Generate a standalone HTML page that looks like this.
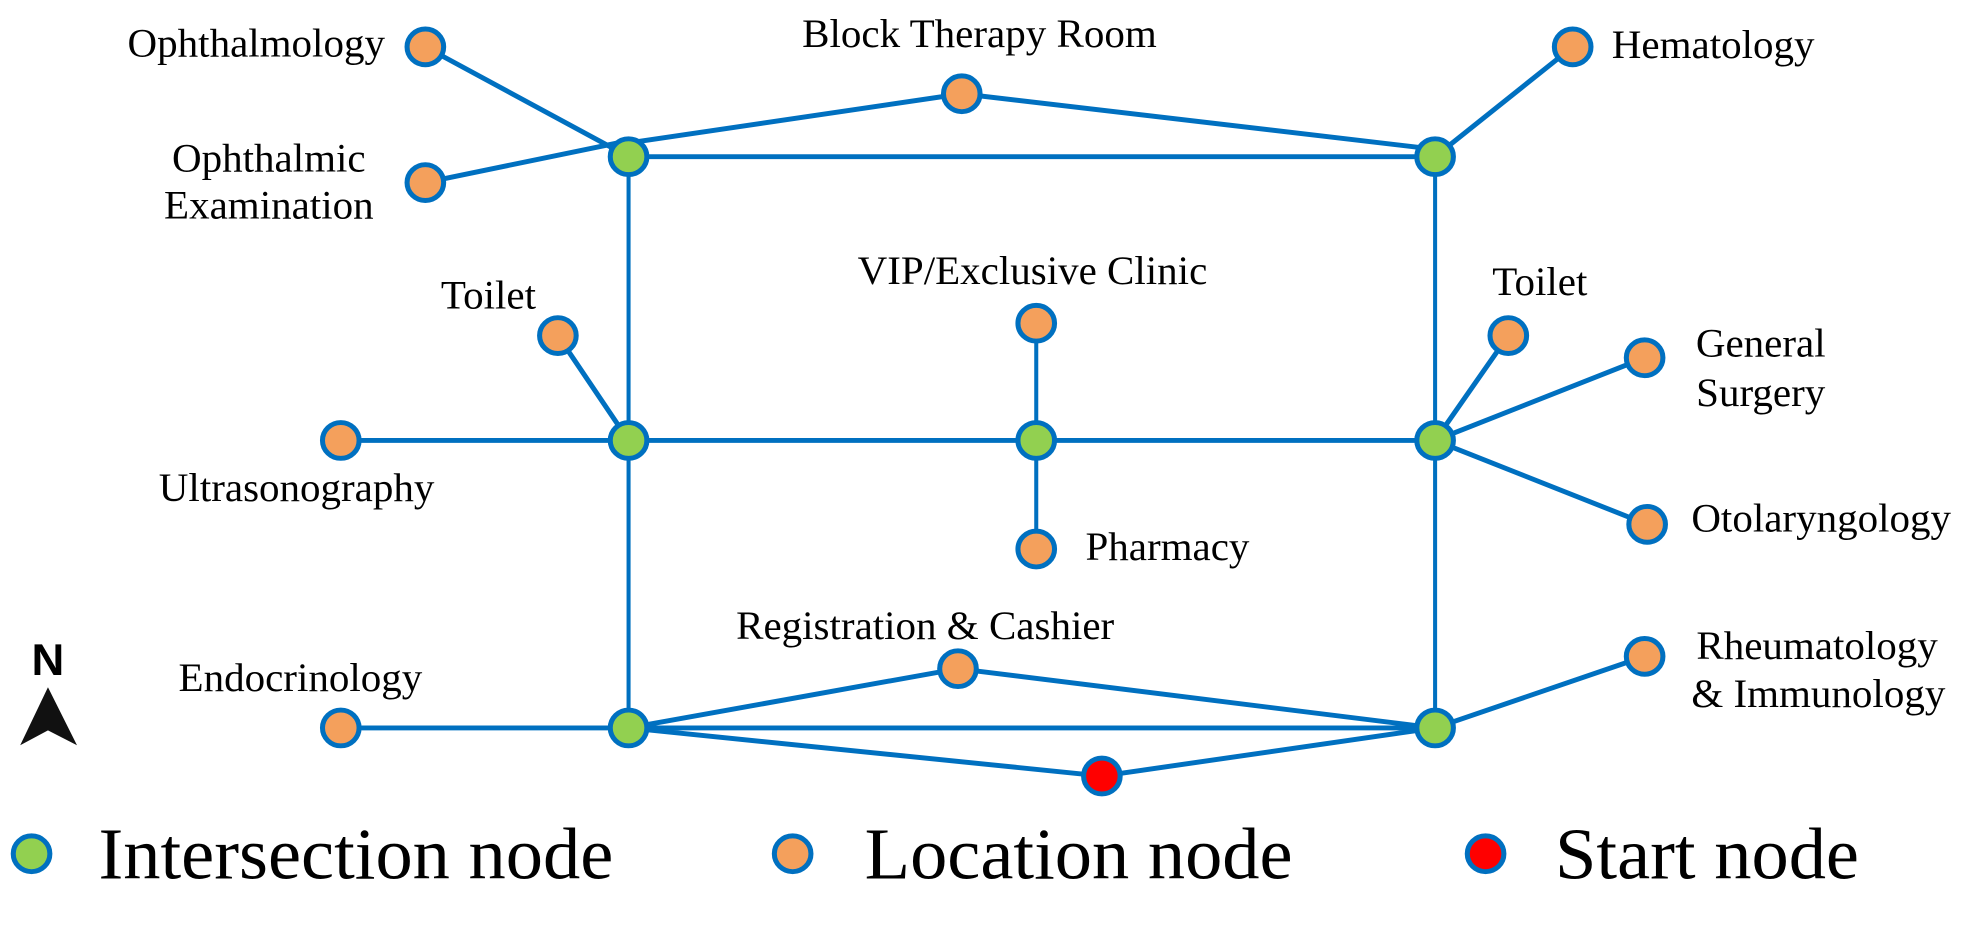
<!DOCTYPE html>
<html><head><meta charset="utf-8"><style>
html,body{margin:0;padding:0;background:#fff;}
svg{display:block;}
text{font-family:"Liberation Serif",serif;fill:#000;}
</style></head><body>
<svg width="1969" height="950" viewBox="0 0 1560 770" preserveAspectRatio="none">
<g stroke="#0070C0" stroke-width="4" fill="none" stroke-linecap="round">
<line x1="337" y1="38" x2="498" y2="127"/>
<line x1="337" y1="148" x2="498" y2="114"/>
<polyline points="484,118 762,76 1137,121"/>
<line x1="498" y1="127" x2="1137" y2="127"/>
<line x1="1137" y1="127" x2="1246" y2="38"/>
<line x1="498" y1="127" x2="498" y2="590" stroke-width="3.2"/>
<line x1="1137" y1="127" x2="1137" y2="590" stroke-width="3.2"/>
<line x1="442" y1="272" x2="498" y2="357"/>
<line x1="270" y1="357" x2="1137" y2="357"/>
<line x1="821" y1="262" x2="821" y2="445" stroke-width="3.2"/>
<line x1="1195" y1="272" x2="1137" y2="357"/>
<line x1="1303" y1="290" x2="1137" y2="357"/>
<line x1="1305" y1="425" x2="1137" y2="357"/>
<line x1="270" y1="590" x2="1137" y2="590"/>
<polyline points="498,590 759,542 1137,590"/>
<polyline points="498,590 873,629 1137,590"/>
<line x1="1137" y1="590" x2="1303" y2="532"/>
</g>
<g stroke="#0070C0" stroke-width="4">
<g fill="#F4A05C">
<circle cx="337" cy="38" r="14.5"/><circle cx="337" cy="148" r="14.5"/>
<circle cx="762" cy="76" r="14.5"/><circle cx="1246" cy="38" r="14.5"/>
<circle cx="442" cy="272" r="14.5"/><circle cx="270" cy="357" r="14.5"/>
<circle cx="821" cy="262" r="14.5"/><circle cx="821" cy="445" r="14.5"/>
<circle cx="1195" cy="272" r="14.5"/><circle cx="1303" cy="290" r="14.5"/>
<circle cx="1305" cy="425" r="14.5"/><circle cx="270" cy="590" r="14.5"/>
<circle cx="759" cy="542" r="14.5"/><circle cx="1303" cy="532" r="14.5"/>
<circle cx="628" cy="692" r="14.5"/>
</g>
<g fill="#92D050">
<circle cx="498" cy="127" r="14.5"/><circle cx="1137" cy="127" r="14.5"/>
<circle cx="498" cy="357" r="14.5"/><circle cx="821" cy="357" r="14.5"/>
<circle cx="1137" cy="357" r="14.5"/><circle cx="498" cy="590" r="14.5"/>
<circle cx="1137" cy="590" r="14.5"/><circle cx="25" cy="692" r="14.5"/>
</g>
<g fill="#FF0000">
<circle cx="873" cy="629" r="14.5"/><circle cx="1177" cy="692" r="14.5"/>
</g>
</g>
<g font-size="32.5">
<text x="305" y="46" text-anchor="end">Ophthalmology</text>
<text x="776" y="38" text-anchor="middle">Block Therapy Room</text>
<text x="1277" y="47">Hematology</text>
<text x="213" y="139" text-anchor="middle">Ophthalmic</text>
<text x="213" y="177" text-anchor="middle">Examination</text>
<text x="387" y="250" text-anchor="middle">Toilet</text>
<text x="818" y="230" text-anchor="middle">VIP/Exclusive Clinic</text>
<text x="1220" y="239" text-anchor="middle">Toilet</text>
<text x="1395" y="289" text-anchor="middle">General</text>
<text x="1395" y="329" text-anchor="middle">Surgery</text>
<text x="235" y="406" text-anchor="middle">Ultrasonography</text>
<text x="860" y="454">Pharmacy</text>
<text x="1340" y="431">Otolaryngology</text>
<text x="733" y="518" text-anchor="middle">Registration &amp; Cashier</text>
<text x="238" y="560" text-anchor="middle">Endocrinology</text>
<text x="1344" y="534">Rheumatology</text>
<text x="1340" y="573">&amp; Immunology</text>
</g>
<g font-size="59">
<text x="78" y="712">Intersection node</text>
<text x="685" y="712">Location node</text>
<text x="1232" y="712">Start node</text>
</g>
<text x="38" y="547" text-anchor="middle" font-size="36" font-weight="bold" style="font-family:'Liberation Sans',sans-serif">N</text>
<polygon points="38,557 61,604 38,592 16,604" fill="#111"/>
</svg>
</body></html>
